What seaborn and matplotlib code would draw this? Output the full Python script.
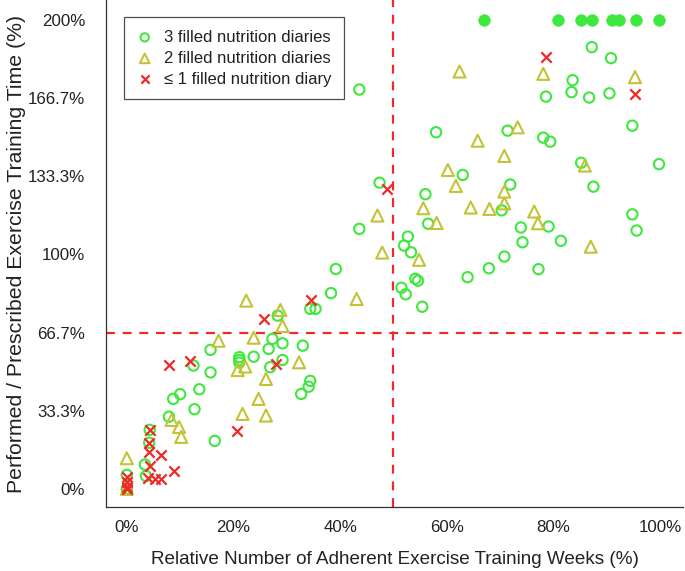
import numpy as np
import pandas as pd
import matplotlib
matplotlib.use("Agg")
import matplotlib.pyplot as plt
import seaborn as sns

# === Data (percent values) ===
# 3 filled nutrition diaries (open green circles)
three_x = [87.2, 90.8, 83.6, 78.6, 83.4, 86.7, 90.5, 58.0, 71.4, 78.1, 79.4, 94.8,
           63.0, 85.2, 99.8, 43.6, 47.4, 56.0, 56.5, 43.6, 52.7, 52.0, 53.3, 39.2,
           67.9, 63.9, 54.1, 54.6, 51.5, 38.3, 52.3, 55.4, 71.9, 70.3, 79.1, 73.9,
           94.8, 95.6, 87.5, 74.2, 81.4, 70.8, 77.2, 34.4, 35.4, 28.3, 27.3, 29.2,
           33.0, 15.7, 26.6, 23.8, 21.1, 21.1, 21.1, 29.2, 26.9, 12.5, 15.7, 34.4,
           34.1, 32.7, 13.6, 10.0, 8.7, 12.7, 7.9, 16.5, 4.3, 4.2, 3.4, 3.6, 0.0, 0.0]
three_y = [188.4, 183.7, 174.3, 167.3, 169.2, 166.9, 168.7, 152.1, 152.8, 149.8, 148.1, 154.9,
           133.9, 139.1, 138.5, 170.3, 130.6, 125.7, 113.1, 110.9, 107.6, 103.8, 100.9, 93.8,
           94.1, 90.3, 89.6, 88.8, 85.8, 83.5, 83.0, 77.7, 129.8, 118.8, 111.9, 111.5,
           117.1, 110.2, 128.9, 105.2, 105.8, 99.1, 93.7, 76.8, 76.8, 73.9, 64.0, 62.1,
           61.1, 59.3, 59.7, 56.4, 56.2, 55.0, 53.9, 55.0, 51.9, 52.6, 49.7, 46.1,
           43.6, 40.5, 42.5, 40.4, 38.4, 34.0, 30.8, 20.5, 25.2, 19.7, 10.4, 5.5, 6.0, 0.0]

# 3 diaries, values above 200% (drawn filled at the 200% cap)
capped_x = [66.9, 80.9, 85.2, 87.3, 91.0, 92.3, 95.5, 99.8]
capped_y = [200, 200, 200, 200, 200, 200, 200, 200]

# 2 filled nutrition diaries (open triangles)
two_x = [62.4, 78.1, 95.3, 73.3, 65.8, 70.8, 60.2, 85.9, 61.7, 55.6, 64.5, 68.0,
         47.0, 58.1, 47.9, 54.8, 43.1, 70.8, 70.8, 76.4, 77.1, 87.0, 22.4, 28.8,
         29.2, 17.2, 23.8, 20.8, 22.2, 32.3, 26.1, 24.7, 21.7, 26.1, 8.4, 9.8,
         10.2, 0.0, 0.0]
two_y = [178.0, 177.0, 175.6, 154.2, 148.5, 142.0, 136.0, 137.9, 129.2, 119.7, 120.0, 119.4,
         116.6, 113.4, 100.8, 97.7, 81.0, 126.8, 121.8, 118.3, 113.3, 103.3, 80.3, 76.3,
         69.5, 63.2, 64.5, 50.7, 52.2, 54.0, 46.9, 38.4, 32.0, 31.3, 29.4, 26.4,
         22.2, 13.1, 0.0]

# <= 1 filled nutrition diary (red crosses)
one_x = [78.6, 95.3, 48.7, 34.6, 25.8, 28.0, 7.9, 11.9, 20.7, 4.3, 4.2, 4.2,
         6.5, 4.3, 8.8, 4.0, 5.3, 6.4, 0.0, 0.0, 0.0, 0.0]
one_y = [184.1, 168.4, 127.9, 80.6, 72.5, 53.3, 52.7, 54.6, 24.9, 25.2, 19.6, 15.9,
         14.3, 9.8, 7.7, 4.6, 4.3, 4.3, 5.2, 3.1, 1.0, 0.0]

x_ticks = [0, 20, 40, 60, 80, 100]
x_minor = [10, 30, 50, 70, 90]
y_ticks = [0, 100 / 3, 200 / 3, 100, 400 / 3, 500 / 3, 200]
y_tick_labels = ["0%", "33.3%", "66.7%", "100%", "133.3%", "166.7%", "200%"]

green = "#3ee83e"
olive = "#c3c335"
red = "#f02828"
axis_col = "#333333"

# === Style ===
sns.set_style("white")
plt.rcParams["font.family"] = ["Liberation Sans", "DejaVu Sans"]

fig = plt.figure(figsize=(6.85, 5.71), dpi=100)
ax = fig.add_axes([106 / 685, 1 - 507 / 571, 577 / 685, 507 / 571])

sns.scatterplot(x=three_x, y=three_y, ax=ax, marker="o", s=55,
                facecolors="none", edgecolor=green, linewidth=1.5,
                label="3 filled nutrition diaries", zorder=3)
sns.scatterplot(x=two_x, y=two_y, ax=ax, marker="^", s=75,
                facecolors="none", edgecolor=olive, linewidth=1.5,
                label="2 filled nutrition diaries", zorder=3)
sns.scatterplot(x=one_x, y=one_y, ax=ax, marker="x", s=55,
                color=red, linewidth=1.6,
                label="\u2264 1 filled nutrition diary", zorder=4)
sns.scatterplot(x=capped_x, y=capped_y, ax=ax, marker="o", s=70,
                color=green, edgecolor=green, linewidth=0.5, zorder=3)

# threshold lines
ax.axvline(50, color=red, lw=1.6, ls=(0, (4, 3.5)), zorder=2)
ax.axhline(200 / 3, color=red, lw=1.6, ls=(0, (4, 3.5)), zorder=2)

ax.set_xlim(-3.9, 104.3)
ax.set_ylim(-7.7, 208.5)

ax.set_xticks(x_ticks)
ax.set_xticklabels([f"{v}%" for v in x_ticks])
ax.set_xticks(x_minor, minor=True)
ax.set_yticks(y_ticks)
ax.set_yticklabels(y_tick_labels)

ax.tick_params(axis="both", which="both", direction="out", length=6.5,
               width=0.8, color=axis_col, labelsize=12.2, labelcolor="#222222")
ax.tick_params(axis="x", which="both", pad=3.0)
ax.tick_params(axis="y", which="both", pad=8.5)

for side in ["top", "right"]:
    ax.spines[side].set_visible(False)
for side in ["left", "bottom"]:
    ax.spines[side].set_color(axis_col)
    ax.spines[side].set_linewidth(0.9)

ax.set_xlabel("Relative Number of Adherent Exercise Training Weeks (%)",
              fontsize=13.6, color="#222222")
ax.set_ylabel("Performed / Prescribed Exercise Training Time (%)",
              fontsize=15.3, color="#222222")
ax.xaxis.set_label_coords(0.5, -(559 - 507) / 507)
ax.yaxis.set_label_coords((17 - 106) / 577, 0.5)
ax.xaxis.label.set_va("center")
ax.yaxis.label.set_va("center")

leg = ax.legend(loc="upper left", bbox_to_anchor=(0.031, 0.966), borderaxespad=0,
                fontsize=12.0, frameon=True, fancybox=False, edgecolor="#222222",
                handlelength=1.0, handletextpad=0.65, labelspacing=0.36,
                borderpad=0.75, markerscale=0.8)
leg.get_frame().set_linewidth(0.9)
for t in leg.get_texts():
    t.set_color("#222222")

fig.savefig("out.png", dpi=100)
